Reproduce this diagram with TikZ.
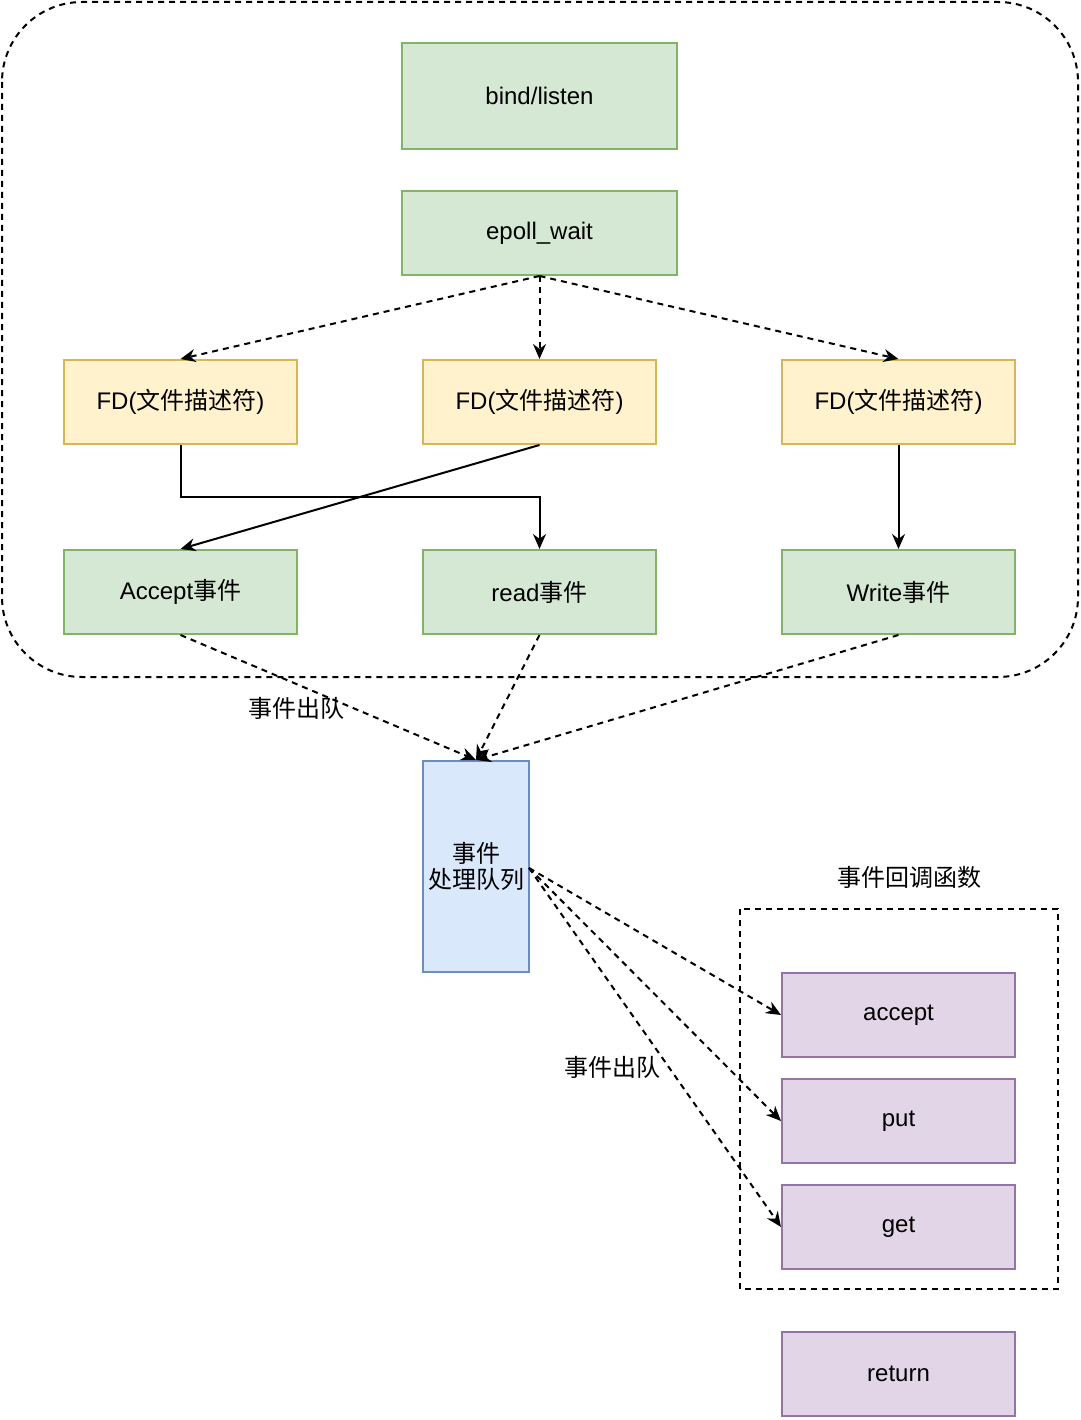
\documentclass[tikz,border=0pt]{standalone}
\usepackage{fontspec}
\setmainfont{Liberation Sans}
\newfontfamily\cjkf{Noto Sans CJK SC}
\newcommand{\zh}[1]{{\cjkf #1}}
\usetikzlibrary{arrows.meta}
\definecolor{gf}{HTML}{D5E8D4}\definecolor{gs}{HTML}{82B366}
\definecolor{yf}{HTML}{FFF2CC}\definecolor{ys}{HTML}{D6B656}
\definecolor{bf}{HTML}{DAE8FC}\definecolor{bs}{HTML}{6C8EBF}
\definecolor{pf}{HTML}{E1D5E7}\definecolor{ps}{HTML}{9673A6}
\begin{document}
\begin{tikzpicture}[x=1pt,y=-1pt,
  every node/.style={font=\fontsize{24}{28}\selectfont},
  box/.style={draw,line width=2pt,minimum width=233pt,minimum height=84pt,inner sep=0pt},
  g/.style={box,fill=gf,draw=gs},
  yel/.style={box,fill=yf,draw=ys},
  pur/.style={box,fill=pf,draw=ps},
  da/.style={line width=2pt,-{Stealth[length=15pt,width=13pt]},dash pattern=on 6pt off 5pt},
  so/.style={line width=2pt,-{Stealth[length=15pt,width=13pt]}},
  lab/.style={fill=white,inner sep=1pt}]
\useasboundingbox (0,0) rectangle (1080,1420);
\draw[line width=2pt,dash pattern=on 6pt off 5pt,rounded corners=80pt] (2,2) rectangle (1078,677);
\node[g,minimum width=275pt,minimum height=106pt] (bind) at (539.5,96) {bind/listen};
\node[g,minimum width=275pt] (ep) at (539.5,233) {epoll\_wait};
\node[yel] (fd1) at (180.5,402) {FD(\zh{文件描述符})};
\node[yel] (fd2) at (539.5,402) {FD(\zh{文件描述符})};
\node[yel] (fd3) at (898.5,402) {FD(\zh{文件描述符})};
\node[g] (acc) at (180.5,592) {Accept\zh{事件}};
\node[g] (rd) at (539.5,592) {read\zh{事件}};
\node[g] (wr) at (898.5,592) {Write\zh{事件}};
\node[box,fill=bf,draw=bs,minimum width=106pt,minimum height=211pt,align=center] (q) at (476,866.5) {\zh{事件}\\[-2pt]\zh{处理队列}};
\node (cbl) at (909,877) {\zh{事件回调函数}};
\draw[line width=2pt,dash pattern=on 6pt off 5pt] (740,909) rectangle (1058,1289);
\node[pur] (a2) at (898.5,1015) {accept};
\node[pur] (put) at (898.5,1121) {put};
\node[pur] (get) at (898.5,1227) {get};
\node[pur] (ret) at (898.5,1374) {return};
\draw[da] (ep.south) -- (fd1.north);
\draw[da] (ep.south) -- (fd2.north);
\draw[da] (ep.south) -- (fd3.north);
\draw[so] (fd1.south) -- (180.5,497) -| (rd.north);
\draw[so] (fd2.south) -- (acc.north);
\draw[so] (fd3.south) -- (wr.north);
\draw[da] (acc.south) -- (q.north);
\draw[da] (rd.south) -- (q.north);
\draw[da] (wr.south) -- (q.north);
\node (lq1) at (296,708) {\zh{事件出队}};
\coordinate (qr) at (529,868);
\draw[da] (qr) -- (a2.west);
\draw[da] (qr) -- (put.west);
\draw[da] (qr) -- (get.west);
\node[lab] (lq2) at (612,1067) {\zh{事件出队}};
\end{tikzpicture}
\end{document}
